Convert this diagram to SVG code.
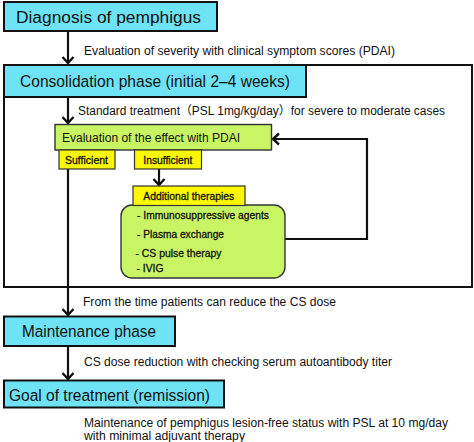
<svg xmlns="http://www.w3.org/2000/svg" width="474" height="442" viewBox="0 0 474 442">
<style>
.phase{fill:#6fe3f6;stroke:#111;stroke-width:2}
.green{fill:#c9f464;stroke:#333;stroke-width:1.4}
.yellow{fill:#fcf800;stroke:#333;stroke-width:1.2}
.big{font-family:"Liberation Sans",Arial,sans-serif;font-size:16.3px;fill:#111}
.lbl{font-family:"Liberation Sans",Arial,"Noto Sans CJK JP",sans-serif;font-size:12px;fill:#111}
.sm{font-family:"Liberation Sans",Arial,sans-serif;font-size:10.6px;fill:#111;stroke:#111;stroke-width:0.3}
.ln{fill:none;stroke:#111;stroke-width:2.2}
</style>
<defs>
<marker id="arr" viewBox="-8 -7 10 14" markerWidth="10" markerHeight="14" refX="0" refY="0" orient="auto" markerUnits="userSpaceOnUse">
<path d="M-6,-5.5 L0,0 L-6,5.5" fill="none" stroke="#111" stroke-width="2.4"/>
</marker>
</defs>
<rect id="outer" x="4" y="65" width="468" height="222" fill="none" stroke="#111" stroke-width="2"/>
<g id="connectors">
<line class="ln" x1="68" y1="31" x2="68" y2="63" marker-end="url(#arr)"/>
<line class="ln" x1="68" y1="97" x2="68" y2="123" marker-end="url(#arr)"/>
<line class="ln" x1="68" y1="169" x2="68" y2="315" marker-end="url(#arr)"/>
<line class="ln" x1="159" y1="169" x2="159" y2="185" marker-end="url(#arr)"/>
<polyline class="ln" points="285,239 367,239 367,139 273,139" marker-end="url(#arr)"/>
<line class="ln" x1="68" y1="346" x2="68" y2="379" marker-end="url(#arr)"/>
</g>
<g id="diagnosis">
<rect class="phase" x="4" y="2" width="213" height="29"/>
<text class="big" x="16" y="23.3" textLength="185" lengthAdjust="spacingAndGlyphs">Diagnosis of pemphigus</text>
</g>
<text class="lbl" x="84" y="55" textLength="311" lengthAdjust="spacingAndGlyphs">Evaluation of severity with clinical symptom scores (PDAI)</text>
<g id="consolidation">
<rect class="phase" x="4" y="65" width="302" height="32"/>
<text class="big" x="20" y="87.3" textLength="270" lengthAdjust="spacingAndGlyphs">Consolidation phase (initial 2–4 weeks)</text>
</g>
<text class="lbl" x="78" y="115" textLength="367" lengthAdjust="spacingAndGlyphs">Standard treatment（PSL 1mg/kg/day）for severe to moderate cases</text>
<g id="evaluation">
<rect class="green" x="55" y="124.5" width="216.5" height="25.5"/>
<text class="lbl" x="62" y="142.3" textLength="178" lengthAdjust="spacingAndGlyphs">Evaluation of the effect with PDAI</text>
</g>
<g id="sufficient">
<rect class="yellow" x="59" y="150" width="56" height="19"/>
<text class="sm" x="65" y="164" textLength="43" lengthAdjust="spacingAndGlyphs">Sufficient</text>
</g>
<g id="insufficient">
<rect class="yellow" x="134.5" y="150" width="67" height="19"/>
<text class="sm" x="143.3" y="164" textLength="49" lengthAdjust="spacingAndGlyphs">Insufficient</text>
</g>
<g id="therapies">
<rect class="green" x="121" y="205" width="164" height="73" rx="11" ry="11"/>
<rect class="yellow" x="133" y="186" width="112" height="19.5"/>
<text class="sm" x="143.3" y="200" textLength="91" lengthAdjust="spacingAndGlyphs">Additional therapies</text>
<text class="sm" x="137" y="218.5" textLength="132" lengthAdjust="spacingAndGlyphs">- Immunosuppressive agents</text>
<text class="sm" x="137" y="238.3" textLength="87" lengthAdjust="spacingAndGlyphs">- Plasma exchange</text>
<text class="sm" x="135.5" y="256.5" textLength="86" lengthAdjust="spacingAndGlyphs">- CS pulse therapy</text>
<text class="sm" x="136.5" y="272" textLength="27" lengthAdjust="spacingAndGlyphs">- IVIG</text>
</g>
<text class="lbl" x="83" y="306" textLength="253" lengthAdjust="spacingAndGlyphs">From the time patients can reduce the CS dose</text>
<g id="maintenance">
<rect class="phase" x="4" y="316.5" width="171" height="29.5"/>
<text class="big" x="22" y="336.7" textLength="134" lengthAdjust="spacingAndGlyphs">Maintenance phase</text>
</g>
<text class="lbl" x="84" y="366" textLength="308" lengthAdjust="spacingAndGlyphs">CS dose reduction with checking serum autoantibody titer</text>
<g id="goal">
<rect class="phase" x="4" y="380.5" width="220" height="27"/>
<text class="big" x="9" y="401" textLength="201" lengthAdjust="spacingAndGlyphs">Goal of treatment (remission)</text>
</g>
<text class="lbl" x="84" y="427" textLength="364" lengthAdjust="spacingAndGlyphs">Maintenance of pemphigus lesion-free status with PSL at 10 mg/day</text>
<text class="lbl" x="84" y="439.5" textLength="161" lengthAdjust="spacingAndGlyphs">with minimal adjuvant therapy</text>
</svg>
